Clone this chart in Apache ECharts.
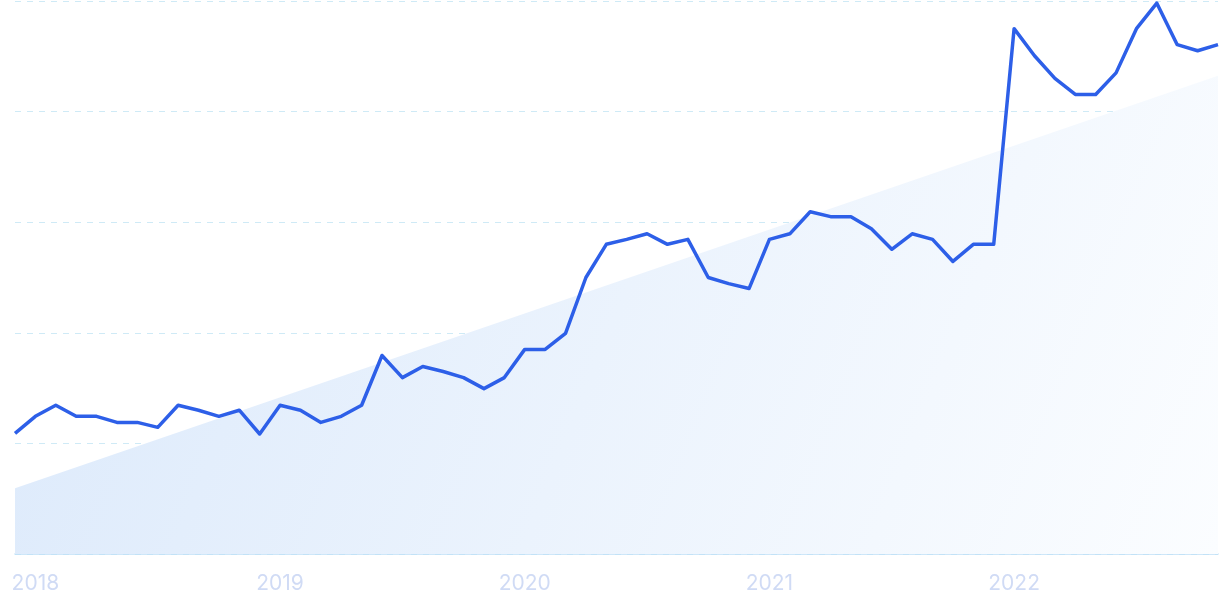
<!DOCTYPE html>
<html><head><meta charset="utf-8">
<script src="https://cdn.jsdelivr.net/npm/echarts@6/dist/echarts.min.js"></script>
<style>html,body{margin:0;padding:0;background:#fff}#c{width:1222px;height:610px}</style>
</head><body><div id="c"></div>
<script>
const categories = [];
for (let y = 2017; y <= 2022; y++) for (let m = 1; m <= 12; m++) {
  if ((y === 2017 && m < 12) || (y === 2022 && m > 11)) continue;
  categories.push(y + '-' + String(m).padStart(2, '0'));
}
const values = [21.8,24.9,26.9,24.9,24.9,23.8,23.8,22.9,26.9,26.0,24.9,26.0,21.7,26.9,26.0,23.8,24.9,26.9,35.9,31.9,33.9,33.0,31.9,29.9,31.9,37.0,37.0,39.9,50.0,56.0,56.9,57.9,56.0,56.9,50.0,48.9,48.0,56.9,57.9,61.9,61.0,61.0,58.8,55.1,57.9,56.9,52.9,56.0,56.0,95.0,90.1,86.0,83.1,83.1,87.0,95.0,99.6,92.1,91.0,92.1];
const trendStart = 11.9, trendEnd = 86.5;
const trend = categories.map((c, i) => i === 0 ? trendStart : (i === categories.length - 1 ? trendEnd : null));
const chart = echarts.init(document.getElementById('c'));
chart.setOption({
  animation: false,
  grid: { left: 15, right: 4, top: 1, bottom: 56 },
  xAxis: {
    type: 'category', data: categories, boundaryGap: false,
    axisLine: { lineStyle: { color: '#bfe0f8', width: 1.5 } },
    axisTick: { show: false },
    axisLabel: {
      interval: (i, v) => v.endsWith('-01'), formatter: v => v.slice(0, 4),
      color: '#d0dbf5', fontSize: 21, fontFamily: 'Inter', margin: 19
    }
  },
  yAxis: {
    type: 'value', min: 0, max: 100, interval: 20,
    axisLabel: { show: false }, axisLine: { show: false }, axisTick: { show: false },
    splitLine: { lineStyle: { color: '#cfeaf6', type: [6, 6], width: 1 } }
  },
  series: [
    { type: 'line', data: trend, connectNulls: true, symbol: 'none', lineStyle: { width: 0 },
      areaStyle: { opacity: 1, color: new echarts.graphic.LinearGradient(0, 0, 1, 1, [
        { offset: 0, color: '#dbe9fb' }, { offset: 1, color: '#fbfdff' }]) } },
    { type: 'line', data: values, symbol: 'none',
      lineStyle: { color: '#2d5fe8', width: 3.5, join: 'round' } }
  ]
});
</script></body></html>
